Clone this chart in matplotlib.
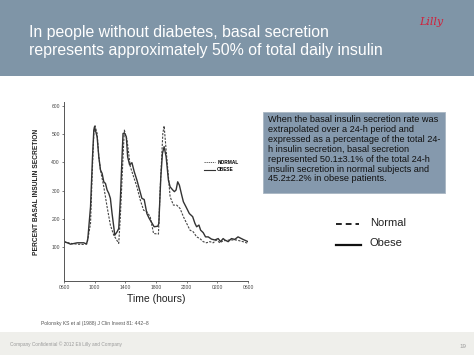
import matplotlib
matplotlib.use("Agg")
import matplotlib.pyplot as plt
from matplotlib.patches import Rectangle
from matplotlib.lines import Line2D

plt.rcParams["font.family"] = ["Liberation Sans", "DejaVu Sans"]

# time in hours (06:00 = 6, next day 06:00 = 30), percent basal insulin secretion
normal_t = [6.0, 6.86, 7.73, 8.59, 9.03, 9.46, 9.68, 9.89, 10.02, 10.32, 10.54, 10.76,
            11.19, 11.62, 12.05, 12.49, 13.14, 13.35, 13.70, 13.87, 14.22, 14.65, 15.08,
            15.51, 15.95, 16.38, 16.81, 17.24, 17.68, 18.32, 18.54, 18.89, 19.06, 19.32,
            19.62, 19.84, 20.27, 20.70, 21.14, 21.57, 22.00, 22.43, 22.86, 23.30, 23.73,
            24.16, 24.59, 25.03, 25.46, 25.89, 26.32, 26.76, 27.62, 28.49, 29.35, 30.0]
normal_v = [118, 112, 109, 108, 114, 183, 361, 503, 533, 503, 420, 373,
            313, 242, 177, 141, 112, 207, 420, 515, 480, 385, 349,
            313, 266, 230, 224, 207, 147, 145, 302, 503, 530, 444,
            349, 278, 248, 248, 236, 207, 183, 159, 153, 135, 129,
            118, 114, 118, 114, 124, 114, 121, 124, 124, 118, 112]

obese_t = [6.0, 6.43, 6.86, 7.73, 8.59, 8.94, 9.11, 9.46, 9.72, 9.89, 9.98, 10.32,
           10.54, 10.76, 10.97, 11.19, 11.41, 11.62, 11.84, 12.05, 12.27, 12.49, 12.62,
           12.92, 13.14, 13.35, 13.57, 13.70, 13.91, 14.13, 14.30, 14.56, 14.86, 15.16,
           15.51, 15.86, 16.16, 16.46, 16.81, 17.11, 17.37, 17.76, 18.24, 18.37, 18.63,
           18.84, 19.06, 19.32, 19.62, 19.84, 20.18, 20.40, 20.62, 20.83, 21.05, 21.35,
           21.57, 21.91, 22.35, 22.78, 23.08, 23.30, 23.60, 23.82, 24.16, 24.46, 24.81,
           25.24, 25.68, 26.11, 26.41, 26.76, 26.97, 27.41, 27.84, 28.27, 28.70, 29.35, 30.0]
obese_v = [118, 114, 109, 114, 114, 109, 129, 242, 420, 515, 527, 491,
           420, 373, 361, 331, 325, 302, 290, 272, 218, 171, 141,
           153, 165, 268, 420, 503, 503, 491, 420, 391, 399, 367,
           337, 302, 272, 268, 218, 201, 189, 171, 173, 183, 349,
           432, 456, 420, 337, 313, 302, 296, 302, 331, 319, 284,
           260, 242, 218, 207, 183, 171, 177, 159, 150, 135, 135,
           127, 124, 129, 118, 129, 124, 118, 129, 126, 135, 126, 118]

x_ticks = [6, 10, 14, 18, 22, 26, 30]
x_labels = ["0600", "1000", "1400", "1800", "2200", "0200", "0600"]
y_ticks = [100, 200, 300, 400, 500, 600]

title_lines = ["In people without diabetes, basal secretion",
               "represents approximately 50% of total daily insulin"]
box_text = ("When the basal insulin secretion rate was\n"
            "extrapolated over a 24-h period and\n"
            "expressed as a percentage of the total 24-\n"
            "h insulin secretion, basal secretion\n"
            "represented 50.1\u00b13.1% of the total 24-h\n"
            "insulin secretion in normal subjects and\n"
            "45.2\u00b12.2% in obese patients.")

W, H = 474, 355
fig = plt.figure(figsize=(W / 100, H / 100), dpi=100)
fig.patch.set_facecolor("white")


def fx(px):
    return px / W


def fy(py):
    return 1 - py / H


# header band and footer band
fig.patches.append(Rectangle((0, fy(76)), 1, 76 / H, transform=fig.transFigure,
                             facecolor="#7f95a7", edgecolor="none", zorder=0))
fig.patches.append(Rectangle((0, 0), 1, fy(332), transform=fig.transFigure,
                             facecolor="#efefeb", edgecolor="none", zorder=0))

fig.text(fx(29), fy(32), title_lines[0], color="white", fontsize=11.4, va="center")
fig.text(fx(29), fy(50), title_lines[1], color="white", fontsize=11.4, va="center")
fig.text(fx(431), fy(22), "Lilly", color="#d0223c", fontsize=8, style="italic",
         family="DejaVu Serif", ha="center", va="center")

# main chart
ax = fig.add_axes([fx(64), fy(281), fx(248) - fx(64), fy(102) - fy(281)])
ax.plot(normal_t, normal_v, color="#444444", lw=0.8, ls=(0, (2, 1.2)))
ax.plot(obese_t, obese_v, color="#333333", lw=1.0)
ax.set_xlim(6, 30)
ax.set_ylim(-22, 615)
ax.set_xticks(x_ticks)
ax.set_xticklabels(x_labels)
ax.set_yticks(y_ticks)
for s in ["top", "right"]:
    ax.spines[s].set_visible(False)
for s in ["left", "bottom"]:
    ax.spines[s].set_linewidth(0.7)
    ax.spines[s].set_color("#555555")
ax.tick_params(labelsize=3.6, length=1.5, width=0.5, pad=1.5, colors="#444444")
ax.set_facecolor("none")
ax.set_xlabel("Time (hours)", fontsize=7.5, labelpad=3, color="#222222")
ax.set_ylabel("PERCENT BASAL INSULIN SECRETION", fontsize=4.8, fontweight="bold",
              labelpad=8, color="#222222")

# small legend inside chart
ax.legend(handles=[Line2D([], [], color="#444444", lw=0.6, ls=(0, (1.5, 1))),
                   Line2D([], [], color="#333333", lw=0.8)],
          labels=["NORMAL", "OBESE"], loc="upper left", bbox_to_anchor=(0.74, 0.70),
          frameon=False, prop={"size": 3.4, "weight": "bold"}, handlelength=2.2,
          handletextpad=0.5, labelspacing=0.5)

# text box
fig.patches.append(Rectangle((fx(263), fy(193)), fx(445) - fx(263), fy(112) - fy(193),
                             transform=fig.transFigure, facecolor="#8599ad",
                             edgecolor="#a9b6c3", lw=0.6, zorder=1))
fig.text(fx(268), fy(115), box_text, fontsize=6.55, color="#111111", va="top",
         linespacing=1.13, zorder=2)

# big legend
fig.lines.append(Line2D([fx(336), fx(359)], [fy(224), fy(224)], transform=fig.transFigure,
                        color="#111111", lw=1.3, ls=(0, (3.2, 2.2))))
fig.lines.append(Line2D([fx(336), fx(361)], [fy(245), fy(245)], transform=fig.transFigure,
                        color="#111111", lw=1.6))
fig.text(fx(370), fy(223), "Normal", fontsize=8, color="#222222", va="center")
fig.text(fx(370), fy(243), "Obese", fontsize=8, color="#222222", va="center")

# source and footer
fig.text(fx(41), fy(323), "Polonsky KS et al (1988) J Clin Invest 81: 442\u20138",
         fontsize=3.6, color="#555555", va="center")
fig.text(fx(10), fy(344), "Company Confidential \u00a9 2012 Eli Lilly and Company",
         fontsize=3.4, color="#9a9a9a", va="center")
fig.text(fx(463), fy(347), "19", fontsize=4.5, color="#9a9a9a", va="center", ha="center")

fig.savefig("out.png", dpi=100)
